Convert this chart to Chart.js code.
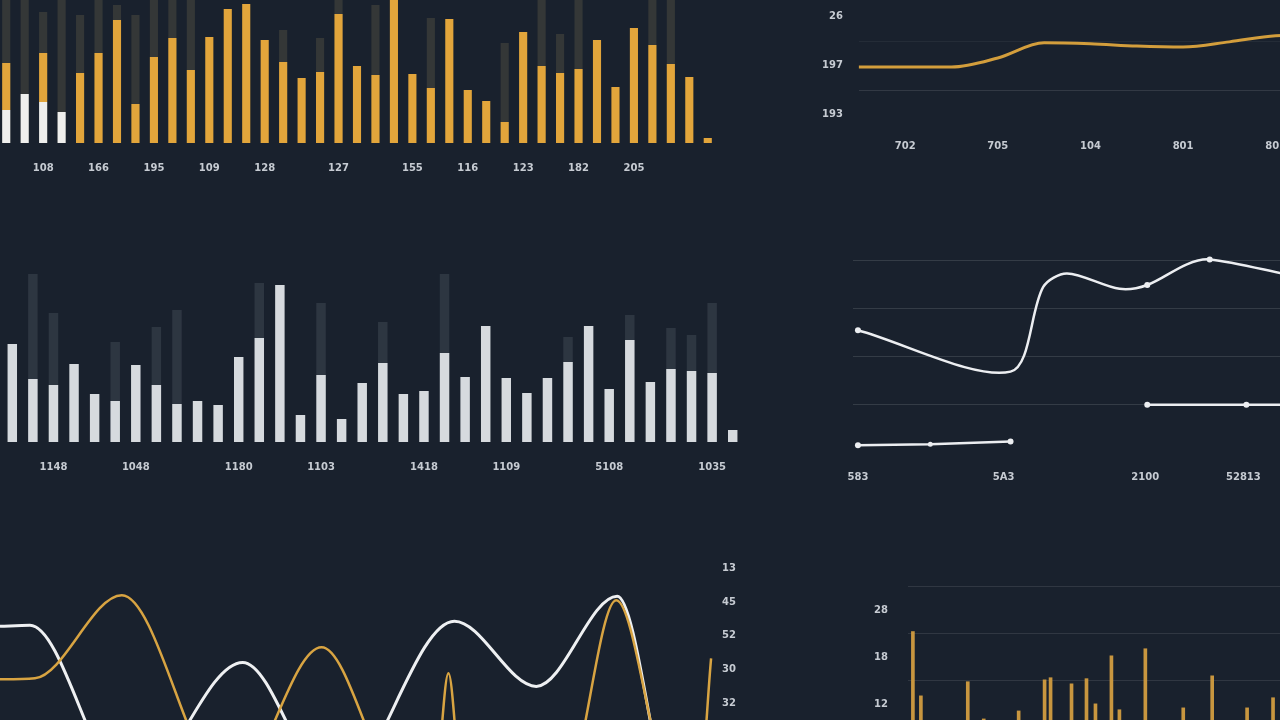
<!DOCTYPE html>
<html>
<head>
<meta charset="utf-8">
<script src="https://cdn.jsdelivr.net/npm/chart.js@4.4.1/dist/chart.umd.min.js"></script>
<style>
html, body { margin: 0; padding: 0; width: 1280px; height: 720px; overflow: hidden; background: #19212d; }
canvas { position: absolute; }
</style>
</head>
<body>
<canvas id="topBars" width="720" height="174" style="left:-3px;top:0px"></canvas>
<canvas id="topLine" width="500" height="156" style="left:822px;top:-4px"></canvas>
<canvas id="midBars" width="741" height="211" style="left:2px;top:262px"></canvas>
<canvas id="midLine" width="445" height="241" style="left:843px;top:242px"></canvas>
<canvas id="waves" width="736" height="255" style="left:0px;top:542px"></canvas>
<canvas id="spikes" width="416" height="224" style="left:874px;top:557px"></canvas>
<script>
// ---- top left bars
var topLabels = ['', '', '108', '', '', '166', '', '', '195', '', '', '109', '', '', '128', '', '', '', '127', '',
  '', '', '155', '', '', '116', '', '', '123', '', '', '182', '', '', '205', '', '', '', ''];
var topWhite = [33, 49, 41, 31];
var topGold = [47, 0, 49, 0, 70, 90, 123, 39, 86, 105, 73, 106, 134, 139, 103, 81, 65, 71, 129, 77,
  68, 150, 69, 55, 124, 53, 42, 21, 111, 77, 70, 74, 103, 56, 115, 98, 79, 66, 5];
var topGhost = [143, 143, 131, 143, 128, 143, 138, 128, 143, 143, 143, null, null, null, null, 113, null, 105, 143, null,
  138, null, null, 125, null, null, null, 100, null, 143, 109, 143, null, null, null, 143, 143, null, null];

// ---- top right line
var goldLineLabels = ['', '702', '', '705', '', '104', '', '801', '', '801', ''];
var goldLine = [1.94, 1.94, 1.94, 2.31, 2.93, 2.89, 2.80, 2.76, 2.97, 3.22, 3.26];
var goldLineY = ['193', '', '197', '', '26'];

// ---- middle left bars
var midLabels = ['', '', '1148', '', '', '', '1048', '', '', '', '', '1180', '', '', '', '1103', '', '', '',
  '', '1418', '', '', '', '1109', '', '', '', '', '5108', '', '', '', '', '1035', ''];
var midWhite = [98, 63, 57, 78, 48, 41, 77, 57, 38, 41, 37, 85, 104, 157, 27, 67, 23, 59, 79, 48,
  51, 89, 65, 116, 64, 49, 64, 80, 116, 53, 102, 60, 73, 71, 69, 12];
var midGhost = [null, 168, 129, null, null, 100, null, 115, 132, null, null, null, 159, null, null, 139, null, null, 120, null,
  null, 168, null, null, null, null, null, 105, null, null, 127, null, 114, 107, 139, null];

// ---- middle right lines
var whiteX = [0, 15.4, 18.7, 21.1, 26.4, 29.2, 33.2, 35.5, 43.5];
var whiteY = [2.55, 1.69, 3.45, 3.73, 3.41, 3.49, 3.92, 4.02, 3.70];
var whiteDots = [3, 0, 0, 0, 0, 3, 0, 3, 0];
var lowX = [0, 7.3, 15.4, 20, 29.2, 39.2, 43.5];
var lowY = [0.16, 0.18, 0.24, null, 1.0, 1.0, 1.0];
var midLineTicks = [0, 14.7, 29, 38.9];
var midLineLabels = ['583', '5A3', '2100', '52813'];

// ---- bottom left waves
var waveWhiteX = [0, 3.0, 13.0, 24.3, 33.5, 45.5, 53.7, 61.8, 66.5];
var waveWhite = [2.28, 2.31, -2.58, 1.21, -2.58, 2.43, 0.50, 3.17, -2.58];
var waveGoldX = [0, 3.5, 12.2, 23.0, 32.2, 40.5, 43.5, 44.9, 46.3, 56.5, 61.7, 67.5, 70.0, 71.2];
var waveGold = [0.71, 0.74, 3.2, -2.58, 1.66, -2.58, -2.58, 0.89, -2.58, -2.58, 3.05, -2.58, -2.58, 1.33];
var waveY = ['32', '30', '52', '45', '13'];

// ---- bottom right spikes
var spikeX = [0.5, 1.3, 6.0, 7.6, 11.1, 13.7, 14.3, 16.4, 17.9, 18.8, 20.4, 21.2, 23.8, 27.6, 30.5, 34.0, 36.6];
var spikeY = [6.09, 3.36, 3.96, 2.38, 2.72, 4.04, 4.13, 3.87, 4.09, 3.02, 5.06, 2.77, 5.36, 2.85, 4.21, 2.85, 3.28];
var spikeLabels = ['12', '', '18', '', '28', ''];

Chart.defaults.font.family = 'DejaVu Sans';
Chart.defaults.font.size = 10;
Chart.defaults.font.weight = 'bold';
Chart.defaults.color = '#c6cbd2';
Chart.defaults.animation = false;
Chart.defaults.responsive = false;
Chart.defaults.plugins.legend.display = false;
Chart.defaults.plugins.tooltip.enabled = false;

// invisible tick marks used only to push labels away from the plot
function spacer(len) {
  return { display: true, color: 'transparent', drawOnChartArea: false, tickLength: len };
}
function fixedTicks(vals) {
  return function (scale) { scale.ticks = vals.map(function (v) { return { value: v }; }); };
}
function pts(xs, ys) {
  return xs.map(function (x, i) { return { x: x, y: ys[i] }; });
}

new Chart(document.getElementById('topBars'), {
  type: 'bar',
  data: {
    labels: topLabels,
    datasets: [
      { data: topWhite, backgroundColor: '#efefed', stack: 'main', order: 1 },
      { data: topGold, backgroundColor: '#e2a53b', stack: 'main', order: 1 },
      { data: topGhost, backgroundColor: 'rgba(80,78,66,0.5)', stack: 'ghost', order: 2 }
    ]
  },
  options: {
    datasets: { bar: { grouped: false, categoryPercentage: 1, barPercentage: 0.44 } },
    scales: {
      x: { border: { display: false }, grid: spacer(19), ticks: { padding: 0, autoSkip: false, maxRotation: 0 } },
      y: { display: false, stacked: true, min: 0, max: 143 }
    }
  }
});

new Chart(document.getElementById('topLine'), {
  type: 'line',
  data: {
    labels: goldLineLabels,
    datasets: [{ data: goldLine, borderColor: '#d39e3c', borderWidth: 3, pointRadius: 0, cubicInterpolationMode: 'monotone' }]
  },
  options: {
    scales: {
      x: { border: { display: false }, grid: spacer(1), ticks: { padding: 0, autoSkip: false, maxRotation: 0 } },
      y: {
        min: -1, max: 4.6, border: { display: false },
        afterBuildTicks: fixedTicks([0, 1, 2, 3, 4]),
        grid: {
          tickLength: 16, tickColor: 'transparent',
          color: function (c) { return c.index === 1 ? 'rgba(255,255,255,0.11)' : c.index === 3 ? 'rgba(255,255,255,0.05)' : 'transparent'; }
        },
        ticks: { padding: 0, callback: function (v, i) { return goldLineY[i]; } }
      }
    }
  }
});

new Chart(document.getElementById('midBars'), {
  type: 'bar',
  data: {
    labels: midLabels,
    datasets: [
      { data: midWhite, backgroundColor: '#d6dade', order: 1 },
      { data: midGhost, backgroundColor: 'rgba(70,80,92,0.45)', order: 2 }
    ]
  },
  options: {
    datasets: { bar: { grouped: false, categoryPercentage: 1, barPercentage: 0.46 } },
    scales: {
      x: { border: { display: false }, grid: spacer(19), ticks: { padding: 0, autoSkip: false, maxRotation: 0 } },
      y: { display: false, min: 0, max: 180 }
    }
  }
});

new Chart(document.getElementById('midLine'), {
  type: 'line',
  data: {
    datasets: [
      { data: pts(whiteX, whiteY), borderColor: '#eceef1', borderWidth: 2.5, tension: 0.3,
        pointRadius: whiteDots, pointBackgroundColor: '#eceef1', pointBorderWidth: 0 },
      { data: pts(lowX, lowY), borderColor: '#eceef1', borderWidth: 2.5, spanGaps: false,
        pointRadius: [3, 2.5, 3, 0, 3, 3, 0], pointBackgroundColor: '#eceef1', pointBorderWidth: 0 }
    ]
  },
  options: {
    layout: { padding: { left: 10 } },
    scales: {
      x: {
        type: 'linear', min: -0.5, max: 43, border: { display: false }, grid: spacer(18),
        afterBuildTicks: fixedTicks(midLineTicks),
        ticks: { padding: 0, maxRotation: 0, callback: function (v, i) { return midLineLabels[i]; } }
      },
      y: {
        min: 0, max: 4.3, border: { display: false },
        afterBuildTicks: fixedTicks([1, 2, 3, 4]),
        grid: { color: 'rgba(255,255,255,0.12)', drawTicks: false },
        ticks: { display: false }
      }
    }
  }
});

new Chart(document.getElementById('waves'), {
  type: 'line',
  data: {
    datasets: [
      { data: pts(waveGoldX, waveGold), borderColor: '#d8a442', borderWidth: 2.5, pointRadius: 0, cubicInterpolationMode: 'monotone' },
      { data: pts(waveWhiteX, waveWhite), borderColor: '#eef0f2', borderWidth: 3, pointRadius: 0, cubicInterpolationMode: 'monotone' }
    ]
  },
  options: {
    scales: {
      x: { type: 'linear', display: false, min: 0, max: 71.8 },
      y: {
        position: 'right', min: -2.6, max: 4.6, border: { display: false }, grid: spacer(5),
        afterBuildTicks: fixedTicks([0, 1, 2, 3, 4]),
        ticks: { padding: 0, callback: function (v, i) { return waveY[i]; } }
      }
    }
  }
});

new Chart(document.getElementById('spikes'), {
  type: 'bar',
  data: {
    datasets: [{ data: pts(spikeX, spikeY), backgroundColor: '#c8963f', barThickness: 3 }]
  },
  options: {
    scales: {
      x: { type: 'linear', display: false, offset: false, min: 0, max: 38.3 },
      y: {
        min: 0, max: 9, border: { display: false },
        afterBuildTicks: fixedTicks([3, 4, 5, 6, 7, 8]),
        grid: {
          tickLength: 20, tickColor: 'transparent',
          color: function (c) { return c.index % 2 === 1 ? 'rgba(255,255,255,0.1)' : 'transparent'; }
        },
        ticks: { padding: 0, callback: function (v, i) { return spikeLabels[i]; } }
      }
    }
  }
});
</script>
</body>
</html>
